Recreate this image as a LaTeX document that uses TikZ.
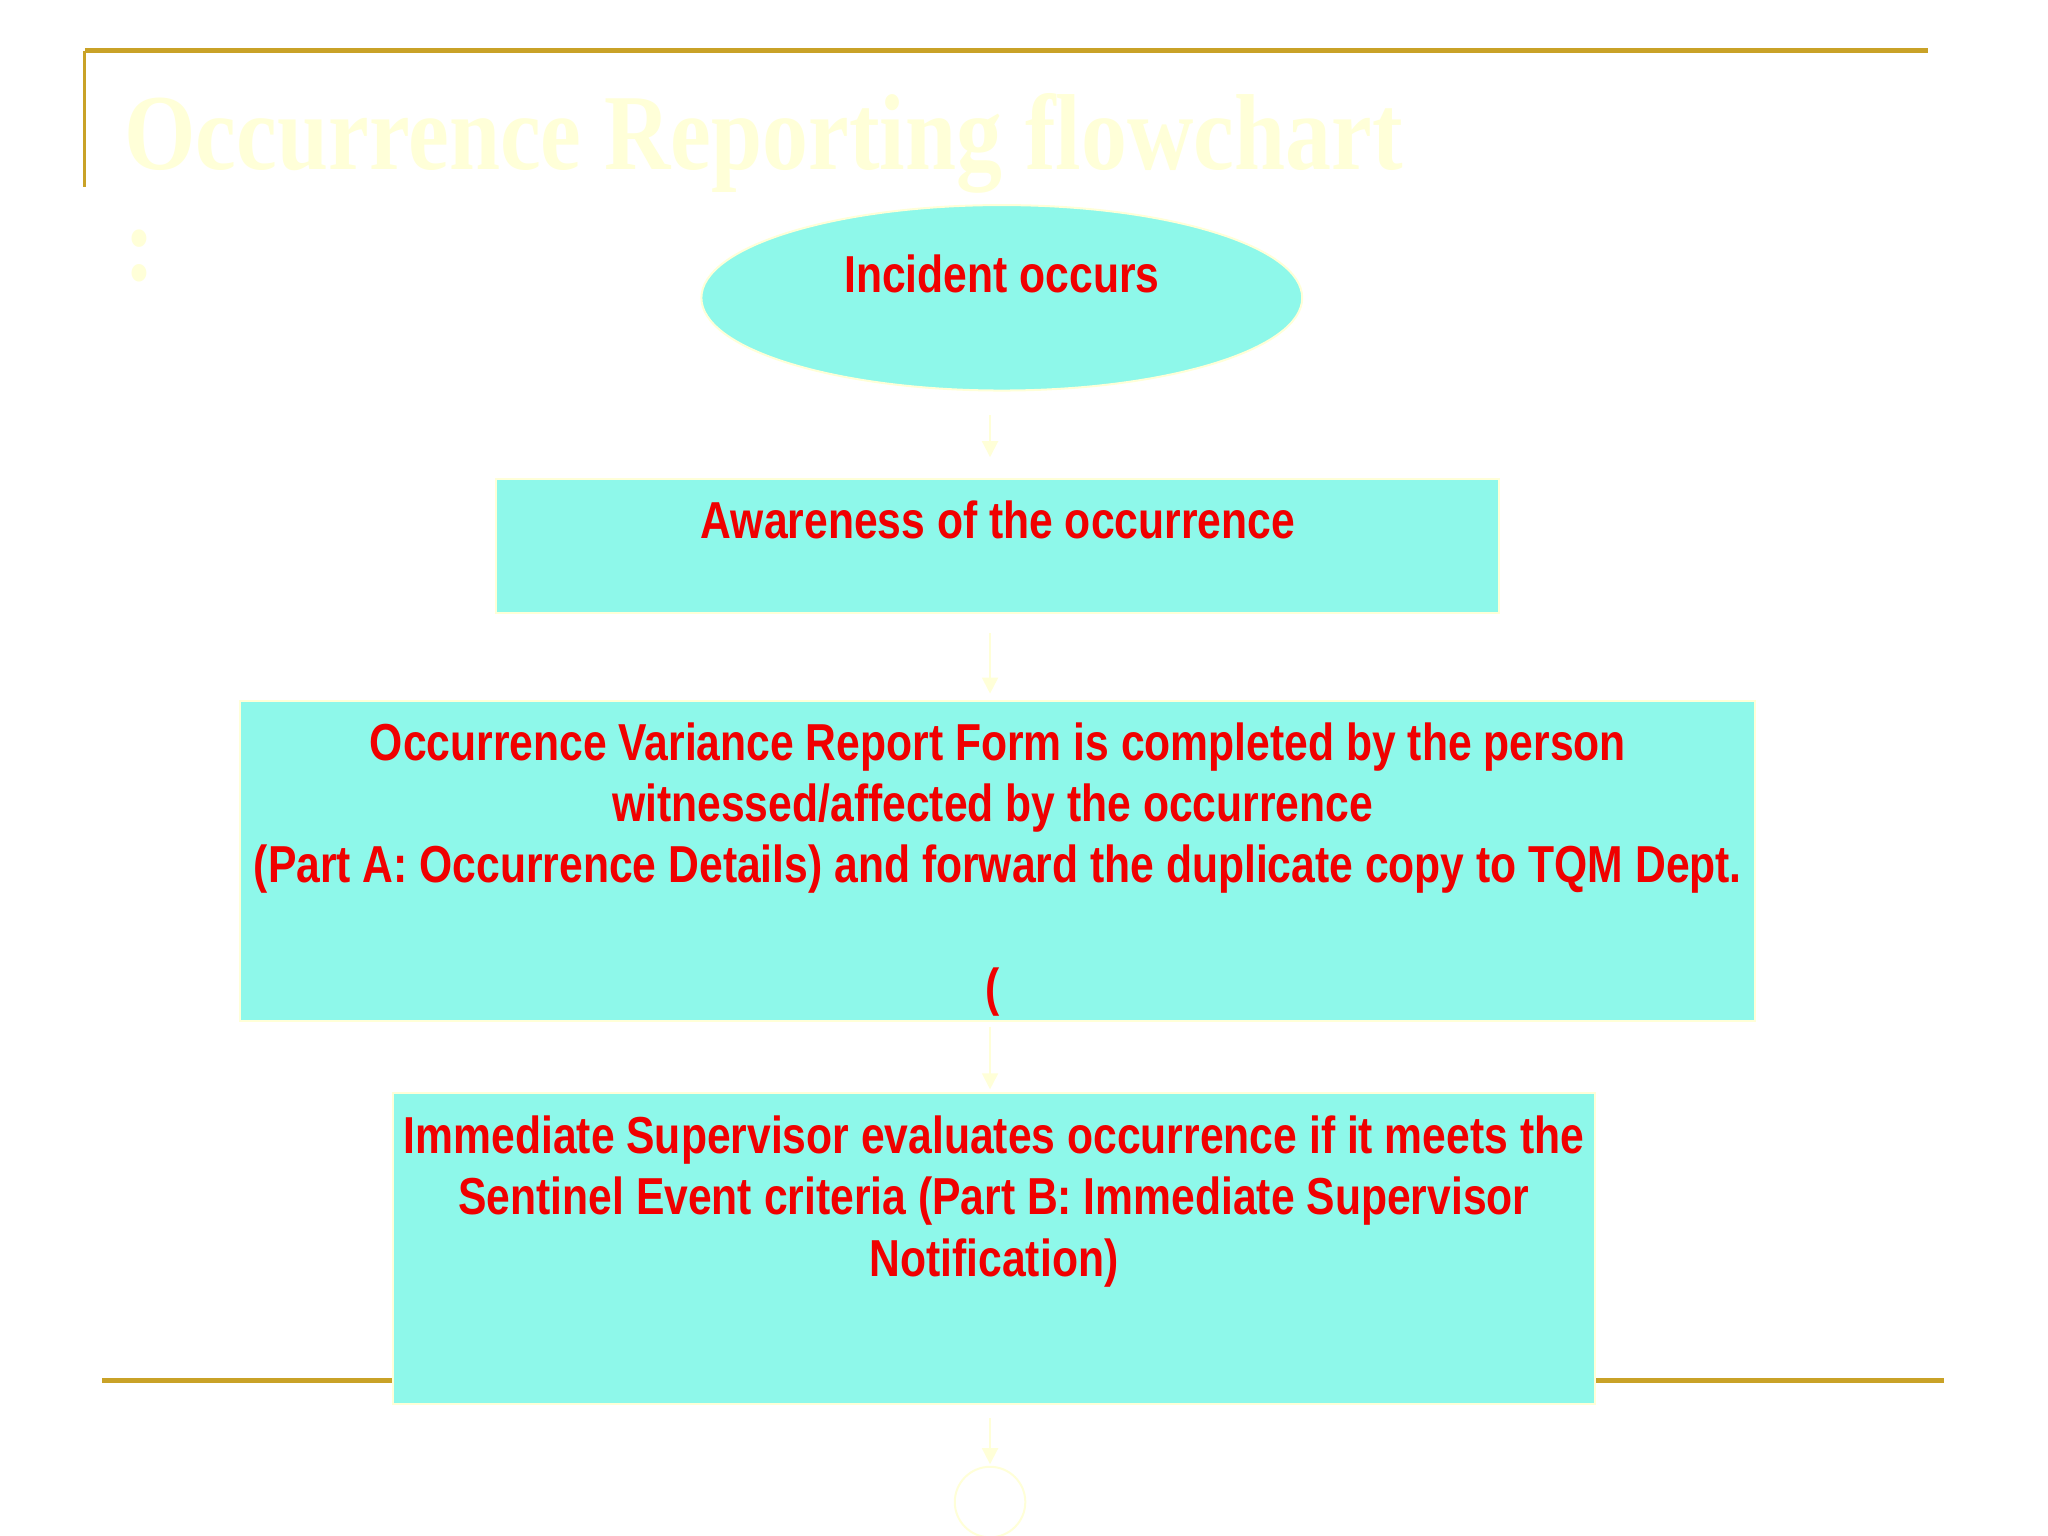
\documentclass[tikz,border=0pt]{standalone}
\usepackage{fontspec}
\setmainfont{Liberation Sans}
\newfontfamily\boxfont[FakeStretch=0.82]{Liberation Sans}
\newfontfamily\titlefont[FakeStretch=0.85]{Liberation Serif}
\usetikzlibrary{arrows.meta,shapes.geometric}
\definecolor{aqua}{HTML}{8EF8EA}
\definecolor{gold}{HTML}{C9A227}
\definecolor{paley}{HTML}{FFFFD8}
\definecolor{txtred}{HTML}{F00000}
\tikzset{
  flowbox/.style={draw=paley,line width=1pt,fill=aqua,inner sep=0pt},
  flowtext/.style={text=txtred,font=\boxfont\bfseries\fontsize{26}{31}\selectfont,align=center},
  conn/.style={draw=paley,line width=1pt,-{Triangle[length=8pt,width=8pt]}},
  rule/.style={draw=gold,line width=2.5pt}
}
\begin{document}
\begin{tikzpicture}[x=0.653pt,y=-0.653pt]
\useasboundingbox[fill=white] (0,0) rectangle (1568,1176);
% decorative lines
\draw[rule] (65,39) -- (1476,39);
\draw[draw=gold,line width=1.5pt] (65,39) -- (65,143);
\draw[rule] (78,1057) -- (1488,1057);
% title
\node[anchor=base west,text=paley,font=\titlefont\bfseries\fontsize{54}{60}\selectfont,inner sep=0pt] (title) at (95,130) {Occurrence Reporting flowchart};
\node[anchor=base west,text=paley,font=\titlefont\bfseries\fontsize{54}{60}\selectfont,inner sep=0pt] (colon) at (95,215) {:};
% shapes
\node[ellipse,flowbox,minimum width=460*0.653pt,minimum height=142*0.653pt] (e1) at (767,228) {};
\node[flowtext,anchor=base] (t1) at (767,224) {Incident occurs};
\draw[flowbox] (380,367) rectangle (1148,469);
\node[flowtext,anchor=base] (t2) at (764,412) {Awareness of the occurrence};
\draw[flowbox] (184,537) rectangle (1344,782);
\node[flowtext,anchor=base] (t3) at (764,582) {Occurrence Variance Report Form is completed by the person};
\node[flowtext,anchor=base] (t3b) at (760,629) {witnessed/affected by the occurrence};
\node[flowtext,anchor=base] (t3c) at (764,676) {(Part A: Occurrence Details) and forward the duplicate copy to TQM Dept.};
\node[flowtext,anchor=base] (t3d) at (760,770) {(};
\draw[flowbox] (301,837) rectangle (1221,1075);
\node[flowtext,anchor=base] (t4) at (761,883) {Immediate Supervisor evaluates occurrence if it meets the};
\node[flowtext,anchor=base] (t4b) at (761,930) {Sentinel Event criteria (Part B: Immediate Supervisor};
\node[flowtext,anchor=base] (t4c) at (761,977) {Notification)};
\node[circle,draw=paley,line width=1pt,minimum size=54*0.653pt] (c5) at (758,1150) {};
% connectors
\coordinate (a1) at (758,318); \coordinate (a1e) at (758,350);
\coordinate (a2) at (758,485); \coordinate (a2e) at (758,531);
\coordinate (a3) at (758,786); \coordinate (a3e) at (758,834);
\coordinate (a4) at (758,1086); \coordinate (a4e) at (758,1121);
\draw[conn] (a1) -- (a1e);
\draw[conn] (a2) -- (a2e);
\draw[conn] (a3) -- (a3e);
\draw[conn] (a4) -- (a4e);
\end{tikzpicture}
\end{document}
